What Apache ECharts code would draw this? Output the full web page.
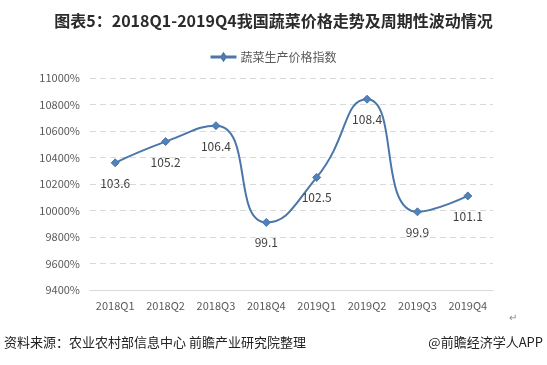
<!DOCTYPE html>
<html><head><meta charset="utf-8">
<script src="https://cdn.jsdelivr.net/npm/echarts@6/dist/echarts.min.js"></script>
<style>html,body{margin:0;padding:0;background:#fff}#c{width:547px;height:365px}</style>
</head><body><div id="c"></div>
<script>
const categories = ['2018Q1','2018Q2','2018Q3','2018Q4','2019Q1','2019Q2','2019Q3','2019Q4'];
const priceIndex = [103.6, 105.2, 106.4, 99.1, 102.5, 108.4, 99.9, 101.1];
const seriesName = '蔬菜生产价格指数';
const titleText = '图表5：2018Q1-2019Q4我国蔬菜价格走势及周期性波动情况';
const sourceText = '资料来源：农业农村部信息中心 前瞻产业研究院整理';
const creditText = '@前瞻经济学人APP';

const chart = echarts.init(document.getElementById('c'), null, {renderer:'canvas'});
const font = '"Noto Sans CJK SC", "Microsoft YaHei", sans-serif';
chart.setOption({
  animation:false,
  backgroundColor:'#fff',
  textStyle:{fontFamily:font},
  title:{text:titleText, left:'center', top:8,
    textStyle:{fontSize:16, fontWeight:'bold', color:'#2b2b2b', fontFamily:font}},
  legend:{top:46, left:'center', itemWidth:24, itemHeight:8,
    data:[{name:seriesName, icon:'path://M0,4 L10,4 L12,1 L14,4 L24,4 L24,5 L14,5 L12,8 L10,5 L0,5 Z'}],
    textStyle:{fontSize:12, color:'#595959', fontFamily:font}},
  grid:{left:90, right:54, top:78, bottom:75},
  xAxis:{type:'category', data:categories, boundaryGap:true,
    axisLine:{lineStyle:{color:'#d9d9d9'}}, axisTick:{show:false},
    axisLabel:{color:'#595959', fontSize:11, margin:10, fontFamily:font}},
  yAxis:{type:'value', min:94, max:110, interval:2,
    axisLine:{show:false}, axisTick:{show:false},
    axisLabel:{color:'#595959', fontSize:11, margin:10, formatter:v=>Math.round(v*100)+'%', fontFamily:font},
    splitLine:{lineStyle:{color:'#d9d9d9', type:[6,4]}}},
  series:[{name:seriesName, type:'line', data:priceIndex, smooth:0.55,
    symbol:'diamond', symbolSize:8,
    lineStyle:{color:'#4a76a8', width:2},
    itemStyle:{color:'#4f81bd', borderColor:'#4a76a8', borderWidth:1},
    label:{show:true, position:'bottom', distance:10, color:'#404040', fontSize:12, fontFamily:font}}],
  graphic:[
    {type:'text', left:4, top:336, style:{text:sourceText, fontSize:13, fill:'#222', fontFamily:font}},
    {type:'text', right:4, top:336, style:{text:creditText, fontSize:13, fill:'#222', fontFamily:font}},
    {type:'text', left:509, top:312, style:{text:'↵', fontSize:10, fill:'#888', fontFamily:font}}
  ]
});
</script></body></html>
